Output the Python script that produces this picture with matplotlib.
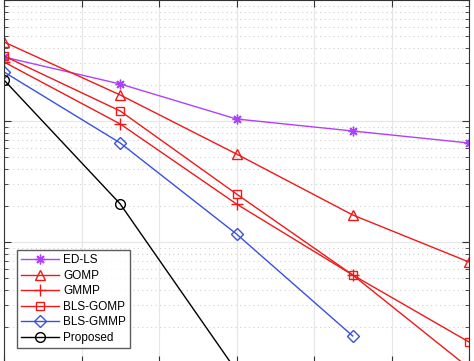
import numpy as np
import matplotlib
matplotlib.use("Agg")
import matplotlib.pyplot as plt

plt.rcParams['font.family'] = ['Liberation Sans', 'DejaVu Sans']

snr = [0, 3, 6, 9, 12]
xticks = [0, 2, 4, 6, 8, 10, 12]

def v(p):
    return [10 ** (-1 - y / 121.0) for y in p]

ed_ls = v([57, 84, 119, 131, 143])
gomp = v([42, 95, 154, 215, 262])
gmmp = v([62, 124, 204, 275, 368])
bls_gomp = v([56, 111, 194, 275, 342])
bls_gmmp = v([72, 143, 234, 336])
proposed = v([80, 204, 371])

fig = plt.figure(figsize=(4.74, 3.61), dpi=100)
ax = fig.add_axes([4 / 474, -2 / 361, 465 / 474, 363 / 361])
ax.set_yscale('log')

purple = '#B040FF'
red = '#F01818'
blue = '#3A50E0'
ms = 7
lw = 1.0
ax.plot(snr, ed_ls, color=purple, marker=(8, 2, 0), ms=ms, lw=lw, label='ED-LS', mew=1.0)
ax.plot(snr, gomp, color=red, marker='^', ms=ms, lw=lw, label='GOMP', mfc='none')
ax.plot(snr, gmmp, color=red, marker='+', ms=ms + 1, lw=lw, label='GMMP')
ax.plot(snr, bls_gomp, color=red, marker='s', ms=ms - 1, lw=lw, label='BLS-GOMP', mfc='none')
ax.plot(snr[:4], bls_gmmp, color=blue, marker='D', ms=ms - 1, lw=lw, label='BLS-GMMP', mfc='none')
ax.plot(snr[:3], proposed, color='black', marker='o', ms=ms, lw=lw, label='Proposed', mfc='none')

ax.set_xlim(0, 12)
ax.set_ylim(1e-4, 1e-1)
ax.set_xticks(xticks)
ax.grid(True, which='major', color='#e6e6e6', lw=0.8)
ax.grid(True, which='minor', axis='y', color='#d0d0d0', lw=0.8, ls=(0, (1, 3)))
ax.tick_params(which='both', direction='in', top=True, right=True,
               labelleft=False, labelbottom=False, color='#333333')
ax.tick_params(which='major', length=5)
ax.tick_params(which='minor', length=3)
for s in ax.spines.values():
    s.set_color('#333333')

leg = ax.legend(loc='lower left', bbox_to_anchor=(13 / 465, 15 / 363), fontsize=8.5,
                frameon=True, fancybox=False, edgecolor='#333333', handlelength=3.2,
                labelspacing=0.3, borderpad=0.35, handletextpad=0.35, borderaxespad=0)
leg.get_frame().set_linewidth(1.0)

fig.savefig('out.png', dpi=100)
